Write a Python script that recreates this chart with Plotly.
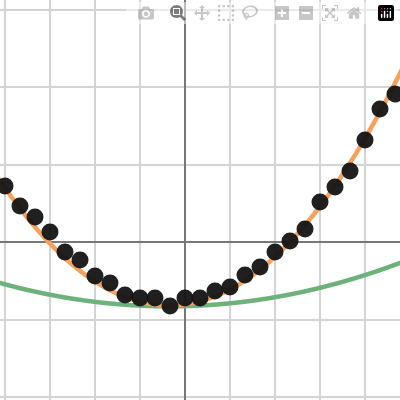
import numpy as np
import plotly.graph_objects as go

x_pts = [-4.333, -4.0, -3.667, -3.333, -3.0, -2.667, -2.333, -2.0, -1.667, -1.333, -1.0, -0.667, -0.333,
         0.0, 0.333, 0.667, 1.0, 1.333, 1.667, 2.0, 2.333, 2.667, 3.0, 3.333, 3.667, 4.0, 4.333, 4.667]
py = [163, 186, 206, 217, 232, 252, 260, 276, 283, 295, 298, 298, 306,
      298, 298, 291, 287, 275, 267, 252, 241, 229, 202, 187, 171, 140, 109, 94]
y_pts = [round((242 - p) / 77.5, 3) for p in py]

orange_coef = [0.114, -0.35, -0.82]   # a, vertex x, vertex y
green_coef = [0.0213, -0.35, -0.83]

xs = np.linspace(-4.2, 4.9, 600)
def quad(c):
    return c[0] * (xs - c[1]) ** 2 + c[2]

fig = go.Figure()
fig.add_trace(go.Scatter(x=xs, y=quad(green_coef), mode="lines",
                         line=dict(color="#6db27b", width=4.5, shape="spline")))
fig.add_trace(go.Scatter(x=xs, y=quad(orange_coef), mode="lines",
                         line=dict(color="#f8a15a", width=4.5, shape="spline")))
fig.add_trace(go.Scatter(x=x_pts, y=y_pts, mode="markers",
                         marker=dict(color="rgba(20,20,20,0.95)", size=17, line=dict(width=0))))

fig.update_layout(width=400, height=400, margin=dict(l=0, r=0, t=0, b=0),
                  plot_bgcolor="white", paper_bgcolor="white", showlegend=False)
fig.update_xaxes(range=[-185/45, 215/45], dtick=1, tick0=0, showgrid=True, gridcolor="#d4d4d4",
                 gridwidth=1.5, zeroline=True, zerolinecolor="#777", zerolinewidth=1.5,
                 showticklabels=False, ticks="")
fig.update_yaxes(range=[-158/77.5, 242/77.5], dtick=1, tick0=0, showgrid=True, gridcolor="#d4d4d4",
                 gridwidth=1.5, zeroline=True, zerolinecolor="#777", zerolinewidth=1.5,
                 showticklabels=False, ticks="")
fig.write_html("out.html", post_script="document.body.style.margin='0';document.body.style.overflow='hidden';")
